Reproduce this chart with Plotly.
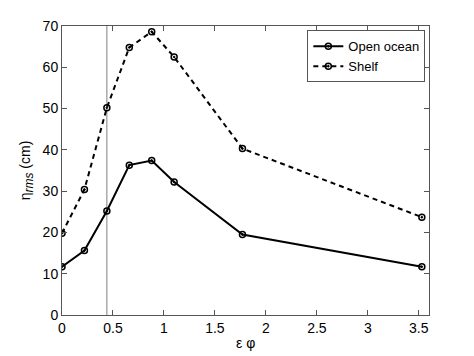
import plotly.graph_objects as go

x_vals = [0, 0.22, 0.44, 0.66, 0.88, 1.1, 1.77, 3.53]
open_ocean = [11.7, 15.6, 25.2, 36.3, 37.4, 32.2, 19.5, 11.7]
shelf = [19.8, 30.4, 50.2, 64.8, 68.6, 62.5, 40.3, 23.7]
vline_x = 0.44
x_ticks = [0, 0.5, 1, 1.5, 2, 2.5, 3, 3.5]
y_ticks = [0, 10, 20, 30, 40, 50, 60, 70]

fig = go.Figure()
fig.add_trace(go.Scatter(
    x=[vline_x, vline_x], y=[0, 70], mode="lines",
    line=dict(color="#808080", width=1), showlegend=False, hoverinfo="skip"))
fig.add_trace(go.Scatter(
    x=x_vals, y=open_ocean, mode="lines+markers", name="Open ocean",
    line=dict(color="black", width=2),
    marker=dict(symbol="circle-open-dot", size=6, color="black", line=dict(width=1.5))))
fig.add_trace(go.Scatter(
    x=x_vals, y=shelf, mode="lines+markers", name="Shelf",
    line=dict(color="black", width=2, dash="5px,4px"),
    marker=dict(symbol="circle-open-dot", size=6, color="black", line=dict(width=1.5))))

axis_common = dict(showgrid=False, zeroline=False, showline=True, mirror="ticks",
                   linecolor="#555555", linewidth=1, ticks="inside", ticklen=5,
                   tickcolor="#555555", tickfont=dict(size=14, color="black"),
                   automargin=False)
fig.update_xaxes(range=[0, 3.6], tickvals=x_ticks, ticktext=[str(t) for t in x_ticks],
                 **axis_common)
fig.update_yaxes(range=[0, 70], tickvals=y_ticks,
                 title=dict(text="η<sub><i><span style='font-size:12px'>rms</span></i></sub> (cm)",
                            font=dict(size=14, color="black"), standoff=8),
                 **axis_common)
fig.add_annotation(text="ε φ", xref="paper", yref="paper", x=0.5, y=-0.097,
                   xanchor="center", yanchor="middle", showarrow=False,
                   font=dict(size=14, color="black"))
fig.update_layout(
    width=466, height=348,
    margin=dict(l=54, r=45, t=18, b=41),
    paper_bgcolor="white", plot_bgcolor="white",
    font=dict(family="Liberation Sans, Arial, sans-serif", size=14, color="black"),
    legend=dict(x=0.99, y=0.985, xanchor="right", yanchor="top",
                bgcolor="white", bordercolor="#555555", borderwidth=1,
                font=dict(size=13), tracegroupgap=0, itemwidth=30),
)
fig.write_html("out.html")
